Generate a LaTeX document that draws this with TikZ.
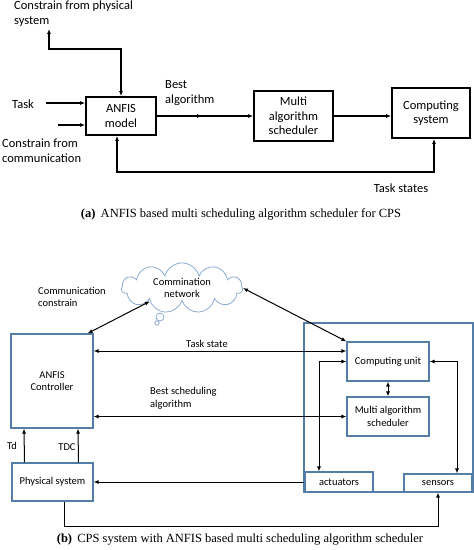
\documentclass[tikz,border=0pt]{standalone}
\usepackage{fontspec}
\setmainfont{Liberation Serif}
\newfontfamily\calibri{Carlito}
\usetikzlibrary{arrows.meta,shapes.symbols,decorations.markings}

\definecolor{boxblue}{RGB}{84,126,168}
\definecolor{cloudblue}{RGB}{140,170,208}

\tikzset{
  blk/.style={draw, line width=1.7pt, align=center, inner sep=1pt,
    font=\calibri\fontsize{12.5}{14.5}\selectfont},
  bblk/.style={draw=boxblue, line width=1.1pt, align=center, inner sep=1pt,
    font=\calibri\fontsize{10.5}{12.5}\selectfont},
  lbla/.style={align=left, inner sep=0pt, font=\calibri\fontsize{12.5}{15}\selectfont},
  lblb/.style={align=left, inner sep=0pt, font=\calibri\fontsize{10.5}{12.5}\selectfont},
  capt/.style={inner sep=0pt, font=\fontsize{12.5}{14}\selectfont},
  midarrow/.style={postaction={decorate}, decoration={markings,
    mark=at position 0.47 with {\arrow{Latex[length=5pt,width=4pt]}}}},
}

\begin{document}
\begin{tikzpicture}[x=1pt, y=-1pt, >={Latex[length=5pt,width=4pt]}]
    \useasboundingbox (0,0) rectangle (474,550);

    % (a) block diagram
    \node[blk, minimum width=70pt, minimum height=38pt] (anfis) at (121,116) {ANFIS\\model};
    \node[blk, minimum width=79pt, minimum height=50pt] (multi) at (293.5,116) {Multi\\algorithm\\scheduler};
    \node[blk, minimum width=78pt, minimum height=50pt] (comp) at (431,113) {Computing\\system};

    \node[lbla, anchor=north west] (cphys) at (14,0.5) {Constrain from physical\\system};
    \node[lbla] (task) at (23,104) {Task};
    \node[lbla, anchor=north west] (ccomm) at (2,139) {Constrain from\\communication};
    \node[lbla, anchor=west] (best) at (165,93) {Best\\algorithm};
    \node[lbla] (tstates) at (401,188) {Task states};

    \coordinate (phystip) at (49,29);
    \coordinate (physbend) at (49,49);
    \coordinate (tasktail) at (46,103);
    \coordinate (commtail) at (58,125);
    \coordinate (feedy) at (0,172);

    \draw[<->, line width=1.3pt] (phystip) -- (physbend) -| (anfis.north);
    \draw[->, line width=1.3pt] (tasktail) -- (anfis.west |- tasktail);
    \draw[->, line width=1.3pt] (commtail) -- (anfis.west |- commtail);
    \draw[->, line width=1.3pt, midarrow] (anfis.east) -- (multi.west);
    \draw[->, line width=1.3pt] (multi.east) -- (comp.west |- multi.east);
    \draw[<->, line width=1.3pt] ([xshift=-4pt]anfis.south) -- ([xshift=-4pt]anfis.south |- feedy)
        -| ([xshift=3pt]comp.south);

    \node[capt] (capa) at (241,214) {\textbf{(a)}\, ANFIS based multi scheduling algorithm scheduler for CPS};

    % (b) CPS system
    \node[cloud, cloud puffs=11, aspect=2.4, draw=cloudblue, line width=0.8pt,
      minimum width=121pt, minimum height=50pt, align=center, inner sep=0pt,
      font=\calibri\fontsize{10.5}{12.5}\selectfont] (cloud) at (182,288) {Commination\\network};
    \draw[cloudblue, line width=0.8pt] (160,317) circle (4pt);
    \draw[cloudblue, line width=0.8pt] (157,323) circle (2.2pt);

    \node[lblb, anchor=north west] (commc) at (38,287) {Communication\\constrain};

    \node[draw=boxblue, line width=2pt, minimum width=169pt, minimum height=169pt] (sys) at (388.5,407.5) {};
    \node[bblk, minimum width=82pt, minimum height=39pt] (cu) at (388,361.5) {Computing unit};
    \node[bblk, minimum width=82pt, minimum height=39pt] (mas) at (388,416.5) {Multi algorithm\\scheduler};
    \node[bblk, fill=white, minimum width=68pt, minimum height=20pt] (act) at (339,482) {actuators};
    \node[bblk, fill=white, minimum width=68pt, minimum height=18pt] (sen) at (438,483) {sensors};

    \node[bblk, minimum width=82pt, minimum height=94pt] (ctrl) at (52,381) {ANFIS\\Controller};
    \node[bblk, minimum width=81pt, minimum height=38pt] (phys) at (52.5,482) {Physical system};

    \node[lblb] (td) at (12,446) {Td};
    \node[lblb] (tdc) at (67,447) {TDC};
    \node[lblb] (tstate) at (207,344) {Task state};
    \node[lblb, anchor=west] (bsa) at (150,398) {Best scheduling\\algorithm};

    \coordinate (tsy) at (0,351);
    \coordinate (boty) at (0,526);

    \draw[<->, line width=1pt] ([xshift=-6pt]ctrl.north east) -- (cloud.south west);
    \draw[<->, line width=1pt] (cloud.east) -- (cu.north west);
    \draw[<->, line width=1pt] (ctrl.east |- tsy) -- (cu.west |- tsy);
    \draw[<->, line width=1pt] (ctrl.east |- mas.west) -- (mas.west);
    \draw[<->, line width=1pt] (cu.south) -- (mas.north);
    \draw[<->, line width=1pt] ([xshift=-20pt]act.north) |- (cu.west);
    \draw[<->, line width=1pt] ([xshift=19pt]sen.north) |- (cu.east);
    \draw[->, line width=1pt] (act.west) -- (phys.east);
    \draw[->, line width=1pt] ([xshift=-28pt]phys.north) -- ([xshift=-28pt]ctrl.south);
    \draw[->, line width=1pt] ([xshift=26pt]phys.north) -- ([xshift=26pt]ctrl.south);
    \draw[->, line width=1pt] ([xshift=12pt]phys.south) -- ([xshift=12pt]phys.south |- boty) -| (sen.south);

    \node[capt] (capb) at (240,540) {\textbf{(b)}\, CPS system with ANFIS based multi scheduling algorithm scheduler};
\end{tikzpicture}
\end{document}
